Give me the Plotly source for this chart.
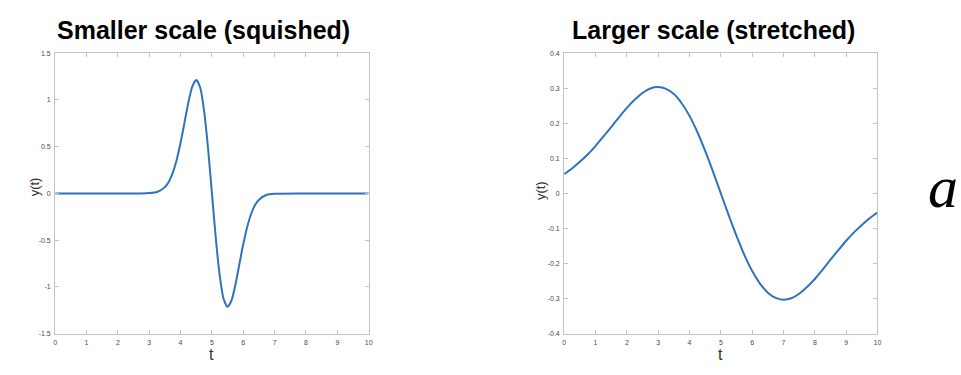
import plotly.graph_objects as go

# Left panel: smaller scale (squished)
t_small = [0, 1, 2, 2.75, 3.0, 3.25, 3.5, 3.625, 3.75, 3.875, 4.0, 4.125, 4.25, 4.375, 4.5,
           4.625, 4.75, 4.875, 5.0, 5.125, 5.25, 5.375, 5.5, 5.625, 5.75, 5.875, 6.0,
           6.125, 6.25, 6.375, 6.5, 6.75, 7.0, 8, 9, 10]
y_small = [0, 0, 0, 0.0, 0.003, 0.015, 0.067, 0.125, 0.22, 0.358, 0.541, 0.757, 0.974, 1.144, 1.213,
           1.132, 0.882, 0.485, 0.0, -0.485, -0.882, -1.132, -1.213, -1.144, -0.974, -0.757, -0.541,
           -0.358, -0.22, -0.125, -0.067, -0.015, -0.003, 0, 0, 0]

# Right panel: larger scale (stretched)
t_large = [0, 0.25, 0.5, 0.75, 1, 1.25, 1.5, 1.75, 2, 2.25, 2.5, 2.75, 3, 3.25, 3.5, 3.75, 4, 4.25, 4.5, 4.75,
           5, 5.25, 5.5, 5.75, 6, 6.25, 6.5, 6.75, 7, 7.25, 7.5, 7.75, 8, 8.25, 8.5, 8.75, 9, 9.25, 9.5, 9.75, 10]
y_large = [0.055, 0.071, 0.090, 0.111, 0.135, 0.162, 0.189, 0.217, 0.244, 0.267, 0.286, 0.299, 0.303,
           0.298, 0.283, 0.257, 0.221, 0.175, 0.121, 0.062, 0.0,
           -0.062, -0.121, -0.175, -0.221, -0.257, -0.283, -0.298, -0.303, -0.299, -0.286, -0.267,
           -0.244, -0.217, -0.189, -0.162, -0.135, -0.111, -0.090, -0.071, -0.055]

x_ticks = list(range(0, 11))
y_ticks_small = [-1.5, -1, -0.5, 0, 0.5, 1, 1.5]
y_tick_text_small = ["-1.5", "-1", "-0.5", "0", "0.5", "1", "1.5"]
y_ticks_large = [-0.4, -0.3, -0.2, -0.1, 0, 0.1, 0.2, 0.3, 0.4]
y_tick_text_large = ["-0.4", "-0.3", "-0.2", "-0.1", "0", "0.1", "0.2", "0.3", "0.4"]

titles = ["Smaller scale (squished)", "Larger scale (stretched)"]

W, H = 961, 375
line_color = "#2f73bc"
axis_color = "#c4c4c4"
tick_font = dict(family="Liberation Sans, Arial, sans-serif", size=7, color="#4a4a4a")

fig = go.Figure()
fig.add_trace(go.Scatter(x=t_small, y=y_small, mode="lines", line=dict(color=line_color, width=2, shape="spline", smoothing=0.6),
                         xaxis="x", yaxis="y", showlegend=False))
fig.add_trace(go.Scatter(x=t_large, y=y_large, mode="lines", line=dict(color=line_color, width=2, shape="spline", smoothing=0.8),
                         xaxis="x2", yaxis="y2", showlegend=False))

def xax(dom, anchor):
    return dict(domain=dom, anchor=anchor, range=[0, 10], tickvals=x_ticks, ticks="inside", ticklen=4,
                tickcolor=axis_color, showline=True, linecolor=axis_color, linewidth=1, mirror="ticks",
                showgrid=False, zeroline=False, tickfont=tick_font, ticklabelstandoff=2)

def yax(dom, anchor, rng, vals, text):
    return dict(domain=dom, anchor=anchor, range=rng, tickvals=vals, ticktext=text, ticks="inside", ticklen=4,
                tickcolor=axis_color, showline=True, linecolor=axis_color, linewidth=1, mirror="ticks",
                showgrid=False, zeroline=False, tickfont=tick_font, ticklabelstandoff=2)

ydom = [1 - 336 / H, 1 - 50 / H]
fig.update_layout(
    width=W, height=H, margin=dict(l=0, r=0, t=0, b=0),
    paper_bgcolor="white", plot_bgcolor="white",
    xaxis=xax([53.5 / W, 369 / W], "y"),
    yaxis=yax(ydom, "x", [-1.5, 1.5], y_ticks_small, y_tick_text_small),
    xaxis2=xax([565.7 / W, 881 / W], "y2"),
    yaxis2=yax(ydom, "x2", [-0.4, 0.4], y_ticks_large, y_tick_text_large),
)

title_font = dict(family="Liberation Sans, Arial, sans-serif", size=25, color="black")
label_font = dict(family="Liberation Sans, Arial, sans-serif", size=13, color="#333333")
t_font = dict(family="Liberation Sans, Arial, sans-serif", size=16, color="#333333")

annots = [
    dict(text="<b>" + titles[0] + "</b>", x=203 / W, y=1 - 27 / H, font=title_font),
    dict(text="<b>" + titles[1] + "</b>", x=716 / W, y=1 - 27 / H, font=title_font),
    dict(text="y(t)", x=33 / W, y=1 - 186 / H, font=label_font, textangle=-90),
    dict(text="y(t)", x=542 / W, y=1 - 190 / H, font=label_font, textangle=-90),
    dict(text="t", x=211 / W, y=1 - 357 / H, font=t_font),
    dict(text="t", x=723 / W, y=1 - 357 / H, font=t_font),
    dict(text="<i>a</i>", x=947 / W, y=1 - 186 / H,
         font=dict(family="Liberation Serif, Times New Roman, serif", size=60, color="black")),
]
for a in annots:
    fig.add_annotation(xref="paper", yref="paper", xanchor="center", yanchor="middle", showarrow=False, **a)

fig.write_html("out.html")
